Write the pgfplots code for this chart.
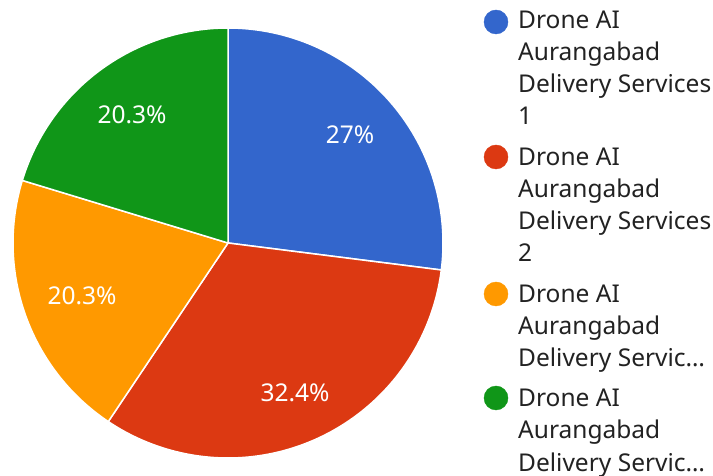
\documentclass[border=0pt]{standalone}
\usepackage{pgfplots}
\pgfplotsset{compat=1.18}
\usepackage{fontspec}
\setmainfont{Noto Sans}
\definecolor{cA}{HTML}{3366CC}
\definecolor{cB}{HTML}{DC3912}
\definecolor{cC}{HTML}{FF9900}
\definecolor{cD}{HTML}{109618}
\definecolor{txt}{HTML}{222222}
\begin{document}
\begin{tikzpicture}
\pgfmathsetmacro\va{27}
\pgfmathsetmacro\vb{32.4}
\pgfmathsetmacro\vc{20.3}
\pgfmathsetmacro\vd{20.3}
\pgfmathsetmacro\aA{90}
\pgfmathsetmacro\aB{\aA-3.6*\va}
\pgfmathsetmacro\aC{\aB-3.6*\vb}
\pgfmathsetmacro\aD{\aC-3.6*\vc}
\pgfmathsetmacro\aE{\aD-3.6*\vd}
\begin{axis}[name=ax, scale only axis, width=713bp, height=476bp,
  xmin=-228, xmax=485, ymin=-233, ymax=243, hide axis, clip=false]
\addplot[fill=cA, draw=white, line width=1.5bp, domain=\aB:\aA, samples=90, variable=\t] ({215*cos(\t)},{215*sin(\t)}) -- (axis cs:0,0) -- cycle;
\addplot[fill=cB, draw=white, line width=1.5bp, domain=\aC:\aB, samples=90, variable=\t] ({215*cos(\t)},{215*sin(\t)}) -- (axis cs:0,0) -- cycle;
\addplot[fill=cC, draw=white, line width=1.5bp, domain=\aD:\aC, samples=90, variable=\t] ({215*cos(\t)},{215*sin(\t)}) -- (axis cs:0,0) -- cycle;
\addplot[fill=cD, draw=white, line width=1.5bp, domain=\aE:\aD, samples=90, variable=\t] ({215*cos(\t)},{215*sin(\t)}) -- (axis cs:0,0) -- cycle;
% slice labels
\begin{scope}[every node/.style={text=white, font=\fontsize{24.5bp}{28bp}\selectfont, inner sep=0pt}]
\node at (axis cs:122,108) {27\%};
\node at (axis cs:67,-150) {32.4\%};
\node at (axis cs:-146,-53) {20.3\%};
\node at (axis cs:-96,128) {20.3\%};
\end{scope}
% legend markers
\addplot[only marks, mark=*, mark size=12bp, color=cA] coordinates {(268,221)};
\addplot[only marks, mark=*, mark size=12bp, color=cB] coordinates {(268,86)};
\addplot[only marks, mark=*, mark size=12bp, color=cC] coordinates {(268,-51)};
\addplot[only marks, mark=*, mark size=12bp, color=cD] coordinates {(268,-155)};
\begin{scope}[every node/.style={text=txt, anchor=base west, font=\fontsize{24.5bp}{28bp}\selectfont, inner sep=0pt}]
\node at (axis cs:290,214) {Drone AI};
\node at (axis cs:290,182) {Aurangabad};
\node at (axis cs:290,150) {Delivery Services};
\node at (axis cs:290,118) {1};
\node at (axis cs:290,77) {Drone AI};
\node at (axis cs:290,45) {Aurangabad};
\node at (axis cs:290,13) {Delivery Services};
\node at (axis cs:290,-19) {2};
\node at (axis cs:290,-60) {Drone AI};
\node at (axis cs:290,-92) {Aurangabad};
\node at (axis cs:290,-124) {Delivery Servic…};
\node at (axis cs:290,-164) {Drone AI};
\node at (axis cs:290,-196) {Aurangabad};
\node at (axis cs:290,-228) {Delivery Servic…};
\end{scope}
\end{axis}
\pgfresetboundingbox
\useasboundingbox (ax.south west) rectangle (ax.north east);
\end{tikzpicture}
\end{document}
